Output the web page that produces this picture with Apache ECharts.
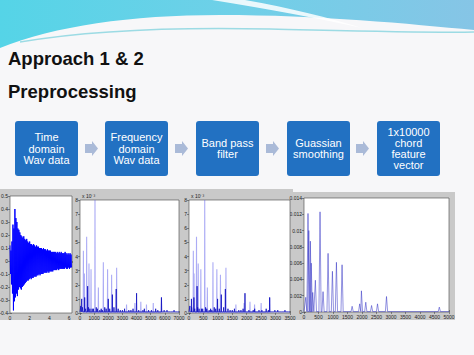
<!DOCTYPE html>
<html><head><meta charset="utf-8">
<script src="https://cdn.jsdelivr.net/npm/echarts/dist/echarts.min.js"></script>
<style>html,body{margin:0;padding:0;background:#f7f7f9}#c{width:474px;height:355px}</style>
</head><body><div id="c"></div>
<script>
// ---------- text ----------
const slideTitles = ['Approach 1 & 2', 'Preprocessing'];
const flowSteps = ['Time\ndomain\nWav data', 'Frequency\ndomain\nWav data', 'Band pass\nfilter', 'Guassian\nsmoothing', '1x10000\nchord\nfeature\nvector'];
const specScaleLabel = 'x 10⁻³';

// ---------- panel 1: time-domain waveform (samples every 0.05 s) ----------
const timeStart = 0, timeStep = 0.05;
const timeV = [0.12,-0.10,0.08,-0.18,0.15,-0.25,0.28,-0.38,0.25,-0.31,0.40,-0.28,0.33,-0.25,0.30,-0.27,0.25,-0.22,0.24,-0.20,
  0.22,-0.21,0.20,-0.22,0.19,-0.20,0.18,-0.19,0.19,-0.18,0.17,-0.17,0.16,-0.16,0.17,-0.15,0.15,-0.15,0.14,-0.14,
  0.15,-0.13,0.13,-0.14,0.13,-0.13,0.12,-0.13,0.13,-0.12,0.12,-0.12,0.11,-0.12,0.12,-0.11,0.11,-0.11,0.11,-0.10,
  0.10,-0.11,0.10,-0.10,0.10,-0.10,0.09,-0.10,0.10,-0.09,0.09,-0.09,0.09,-0.09,0.08,-0.09,0.09,-0.08,0.08,-0.09,
  0.08,-0.08,0.08,-0.08,0.07,-0.08,0.07,-0.08,0.07,-0.07,0.07,-0.07,0.07,-0.07,0.06,-0.07,0.07,-0.06,0.06,-0.07,
  0.07,-0.06,0.06,-0.06,0.07,-0.06,0.06,-0.06,0.06,-0.06,0.06,-0.06,0.07,-0.05,0.06,-0.06,0.05,-0.06,0.06,-0.05,
  0.05,-0.06,0.06,-0.05,0.05,-0.05];

// ---------- panels 2 & 3: spectra (x 10^-3) ----------
const peakHeights   = [4.4,2.8,5.4,3.5,3.1,8.0,1.8,3.6,3.1,2.7,3.2,0.6,0.7,0.8,0.6,0.7,1.1];
const spec2PeakFreq = [240,310,470,635,780,1060,1300,1650,1950,2235,2590,3290,3880,4300,4700,5180,5760];
const spec3PeakFreq = [150,175,260,320,410,545,636,830,965,1090,1280,1625,1909,2113,2272,2500,2795];
const darkHeights   = [1.0,1.1,1.9,1.0,1.3,1.7,1.4,1.1];
const spec2DarkFreq = [120,330,540,2000,2290,2560,4000,5760];
const spec3DarkFreq = [85,170,280,990,1120,1260,1940,2795];
const smallHeights  = [0.5,0.4,0.3,0.4,0.3,0.3,0.3,0.4,0.3,0.2,0.3,0.2,0.4,0.3,0.3,0.4,0.3,0.2,0.2,0.3,0.2,0.2,0.3,0.2,0.2,0.3,0.2,0.2,0.3,0.2,0.2,0.2,0.1,0.2,0.1];
const spec2SmallFreq = [60,180,400,600,700,860,950,1150,1230,1400,1500,1580,1750,1850,2100,2400,2700,2850,3000,3150,3450,3600,3750,4150,4450,4550,4850,5050,5350,5500,5950,6150,6400,6650,6900];
const spec3SmallFreq = [30,90,200,300,350,430,475,575,615,700,750,790,875,925,1050,1200,1350,1425,1500,1575,1725,1800,1875,2075,2225,2275,2425,2525,2675,2750,2975,3075,3200,3325,3450];

// ---------- panel 4: smoothed spectrum ----------
const smoothFreq    = [60,138,165,219,250,300,392,553,657,830,980,1118,1313,1660,1920,1980,2130,2330,2535,2845,4666];
const smoothHeights = [0.0018,0.0121,0.0100,0.0087,0.0060,0.0024,0.0039,0.0123,0.0025,0.0072,0.0050,0.0061,0.0058,0.0007,0.0010,0.0026,0.0012,0.0008,0.0010,0.0019,0.0006];

// ---------- builders ----------
function spikes(freqs, heights, w, base, ends) {
  const pk = freqs.map((f, i) => [f, heights[i]]).sort((a, b) => a[0] - b[0]);
  const out = [];
  if (ends) out.push([ends[0], base]);
  pk.forEach(([f, h]) => { out.push([f - w, base], [f, h], [f + w, base]); });
  if (ends) out.push([ends[1], base]);
  return out;
}
const timeData = timeV.map((v, i) => [+(timeStart + i * timeStep).toFixed(2), v]);

const FONT = 'Liberation Sans, Arial, sans-serif';
const fmt = v => String(+(+v).toFixed(4));
function ax(gi, min, max, interval, pos, labels, extra) {
  return Object.assign({
    type: 'value', gridIndex: gi, min, max, interval, position: pos,
    axisLine: { show: false }, splitLine: { show: false },
    axisTick: { show: true, inside: true, length: 2, lineStyle: { color: '#333', width: 0.5 } },
    axisLabel: { show: labels, fontSize: 5, color: '#222', margin: 2, fontFamily: FONT, formatter: fmt }
  }, extra || {});
}
const grids = [
  { left: 10, top: 196, width: 62, height: 117 },
  { left: 80, top: 200, width: 99, height: 113 },
  { left: 189, top: 200, width: 101, height: 113 },
  { left: 304, top: 198, width: 145, height: 114 }
].map(g => Object.assign(g, { show: true, backgroundColor: '#fff', borderColor: '#444', borderWidth: 0.6, outerBoundsMode: 'none', containLabel: false, z: 1 }));

const xRanges = [[0, 6.3, 2], [0, 7000, 1000], [0, 3500, 500], [0, 5000, 500]];
const yRanges = [[-0.4, 0.5, 0.1], [0, 8, 1], [0, 8, 1], [0, 0.014, 0.002]];
const xAxes = [], yAxes = [];
xRanges.forEach((r, i) => {
  xAxes.push(ax(i, r[0], r[1], r[2], 'bottom', true, { axisLabel: { show: true, fontSize: 5, color: '#222', margin: 2, fontFamily: FONT, formatter: fmt, showMaxLabel: i !== 0 } }));
  xAxes.push(ax(i, r[0], r[1], r[2], 'top', false));
});
yRanges.forEach((r, i) => {
  yAxes.push(ax(i, r[0], r[1], r[2], 'left', true));
  yAxes.push(ax(i, r[0], r[1], r[2], 'right', false));
});

const lightSpike = { color: 'rgba(90,90,235,0.5)', width: 1.1 };
const darkSpike = { color: '#1212c0', width: 0.8 };
const series = [
  { type: 'line', xAxisIndex: 0, yAxisIndex: 0, data: timeData, showSymbol: false, lineStyle: { color: '#0000ff', width: 1 }, z: 3 },
  { type: 'line', xAxisIndex: 2, yAxisIndex: 2, data: spikes(spec2PeakFreq, peakHeights, 14, 0.05), showSymbol: false, lineStyle: lightSpike },
  { type: 'line', xAxisIndex: 2, yAxisIndex: 2, data: spikes(spec2DarkFreq.concat(spec2SmallFreq), darkHeights.concat(smallHeights), 14, 0.08, [0, 7000]), showSymbol: false, lineStyle: darkSpike },
  { type: 'line', xAxisIndex: 4, yAxisIndex: 4, data: spikes(spec3PeakFreq, peakHeights, 7, 0.05), showSymbol: false, lineStyle: lightSpike },
  { type: 'line', xAxisIndex: 4, yAxisIndex: 4, data: spikes(spec3DarkFreq.concat(spec3SmallFreq), darkHeights.concat(smallHeights), 7, 0.08, [0, 3500]), showSymbol: false, lineStyle: darkSpike },
  { type: 'line', xAxisIndex: 6, yAxisIndex: 6, data: spikes(smoothFreq, smoothHeights, 38, 0.00005, [0, 5000]), showSymbol: false, lineStyle: { color: 'rgba(60,60,200,0.7)', width: 0.8 } }
];
series.forEach(s => { s.animation = false; s.silent = true; s.clip = true; });

// ---------- slide decoration shapes ----------
echarts.graphic.registerShape('cyanWave', echarts.graphic.extendPath('M0,0 L474,0 L474,30 C410,24 320,15 220,15 C130,15 55,26 0,48 Z'));
echarts.graphic.registerShape('whiteStreak', echarts.graphic.extendPath('M212,0 L245,0 C290,8 330,18 362,28 C320,19 270,9 212,0 Z'));
echarts.graphic.registerShape('tealLine', echarts.graphic.extendPath('M20,42 C90,30 180,27 270,29 C360,31 430,33 474,32'));

// ---------- flow chart & panels (graphic) ----------
const boxX = [15, 105, 196, 287, 377];
const boxW = 63, boxY = 121, boxH = 55;
const arrowX = [85, 175, 266, 356];
const panelRects = [[0, 189, 73, 131], [73, 189, 108, 131], [181, 189, 112, 131], [293, 192, 162, 128]];
const gfx = [];
gfx.push({ type: 'cyanWave', z: -19,
  style: { fill: { type: 'linear', x: 0, y: 0, x2: 1, y2: 0, colorStops: [{ offset: 0, color: '#55d4e7' }, { offset: 0.5, color: '#6fd0e8' }, { offset: 1, color: '#86c5e6' }] } } });
gfx.push({ type: 'whiteStreak', z: -18, style: { fill: 'rgba(255,255,255,0.85)' } });
gfx.push({ type: 'tealLine', z: -18, style: { fill: null, stroke: '#9cdbe4', lineWidth: 1.5 } });
gfx.push({ type: 'text', z: 5, style: { text: slideTitles[0], x: 8, y: 58, font: 'bold 18.5px ' + FONT, fill: '#111', textVerticalAlign: 'middle' } });
gfx.push({ type: 'text', z: 5, style: { text: slideTitles[1], x: 8, y: 91, font: 'bold 18.5px ' + FONT, fill: '#111', textVerticalAlign: 'middle' } });
boxX.forEach((x, i) => {
  gfx.push({ type: 'rect', z: 5, shape: { x, y: boxY, width: boxW, height: boxH, r: 3 }, style: { fill: '#2271c2' } });
  gfx.push({ type: 'text', z: 6, style: { text: flowSteps[i], x: x + boxW / 2, y: boxY + boxH / 2, font: '11px ' + FONT, lineHeight: 11.3, fill: '#fff', textAlign: 'center', textVerticalAlign: 'middle' } });
});
arrowX.forEach(x => {
  const cy = 148.5;
  gfx.push({ type: 'polygon', z: 5, shape: { points: [[x, cy - 4.5], [x + 7, cy - 4.5], [x + 7, cy - 7.5], [x + 13, cy], [x + 7, cy + 7.5], [x + 7, cy + 4.5], [x, cy + 4.5]] }, style: { fill: '#aabad8' } });
});
panelRects.forEach(r => gfx.push({ type: 'rect', z: -10, shape: { x: r[0], y: r[1], width: r[2], height: r[3] }, style: { fill: '#c9c9c9' } }));
gfx.push({ type: 'text', z: 5, style: { text: specScaleLabel, x: 82, y: 196, font: '5px ' + FONT, fill: '#222', textVerticalAlign: 'middle' } });
gfx.push({ type: 'text', z: 5, style: { text: specScaleLabel, x: 191, y: 196, font: '5px ' + FONT, fill: '#222', textVerticalAlign: 'middle' } });

const chart = echarts.init(document.getElementById('c'), null, { renderer: 'svg' });
chart.setOption({
  animation: false,
  backgroundColor: '#f7f7f9',
  grid: grids,
  xAxis: xAxes,
  yAxis: yAxes,
  series,
  graphic: { elements: gfx }
});
</script></body></html>
